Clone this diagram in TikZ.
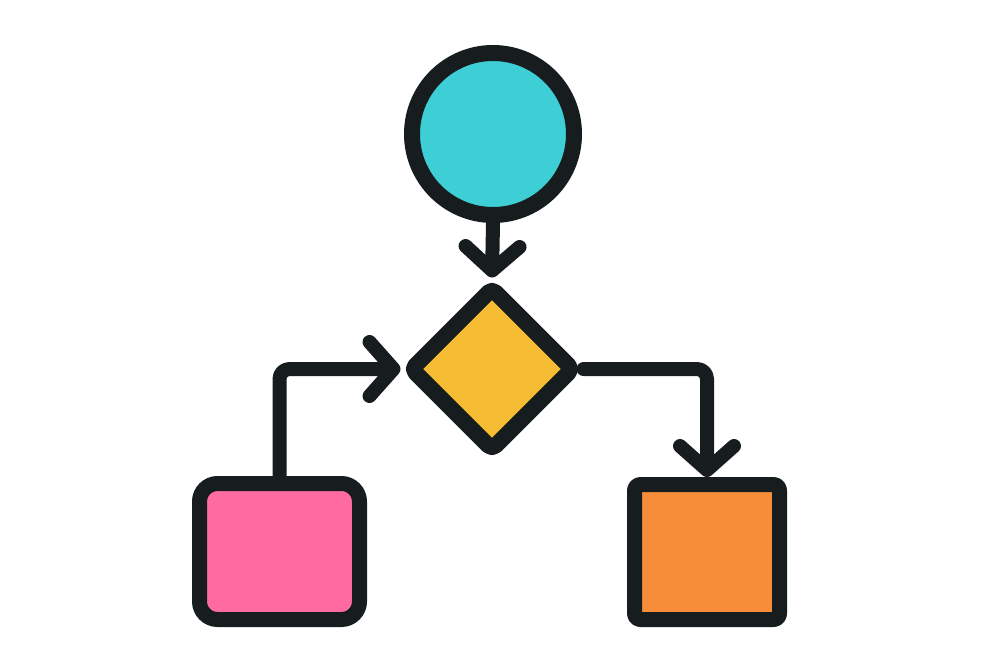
\documentclass[tikz,border=0pt]{standalone}
\usetikzlibrary{shapes.geometric,arrows.meta}
\definecolor{ink}{HTML}{171C1E}
\definecolor{cyanfill}{HTML}{3ECFD6}
\definecolor{yellowfill}{HTML}{F6BC33}
\definecolor{orangefill}{HTML}{F78D38}
\definecolor{pinkfill}{HTML}{FF6BA0}
\begin{document}
\begin{tikzpicture}[x=1pt,y=-1pt,
  shapebox/.style={draw=ink,line width=15pt,inner sep=0pt,line join=round},
  link/.style={draw=ink,line width=14pt,line cap=round,line join=round,rounded corners=10pt,
    -{Straight Barb[length=24pt,width=54pt,round]}}]
\fill[white] (0,0) rectangle (1000,667);
\useasboundingbox (0,0) rectangle (1000,667);
\node[shapebox,circle,fill=cyanfill,line width=16pt,minimum size=162pt] (start) at (493,134) {};
\node[shapebox,diamond,aspect=1,fill=yellowfill,line width=16pt,minimum size=167pt,rounded corners=5pt] (decision) at (492,369) {};
\node[shapebox,rectangle,fill=pinkfill,minimum width=160pt,minimum height=136pt,rounded corners=18pt] (left) at (279.5,551.5) {};
\node[shapebox,rectangle,fill=orangefill,minimum width=145pt,minimum height=135pt,rounded corners=6pt] (right) at (707,552) {};
\draw[link] (start.south) -- (decision.north);
\draw[link] (left.north) |- (decision.west);
\draw[link] (decision.east) -| (right.north);
\end{tikzpicture}
\end{document}
